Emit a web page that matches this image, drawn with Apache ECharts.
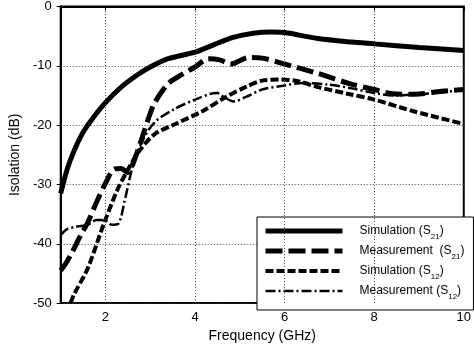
<!DOCTYPE html>
<html>
<head>
<meta charset="utf-8">
<script src="https://cdn.jsdelivr.net/npm/echarts@6/dist/echarts.min.js"></script>
<style>
  html, body { margin: 0; padding: 0; background: #fff; }
  #chart { width: 474px; height: 348px; }
</style>
</head>
<body>
<div id="chart"></div>
<script>
// Isolation vs frequency, simulated and measured S21 / S12
const xTicks = [2, 4, 6, 8, 10];
const xGrid = [2, 4, 6, 8];

const simS21Freq = [1.0, 1.15, 1.3, 1.5, 1.75, 2.0, 2.35, 2.7, 3.0, 3.4, 4.0, 4.4, 4.85, 5.3, 5.7, 6.0, 6.75, 7.5, 8.0, 9.0, 10.0];
const simS21Val  = [-31.5, -27.3, -24.3, -21.2, -18.5, -16.2, -13.6, -11.6, -10.2, -8.8, -7.7, -6.5, -5.2, -4.5, -4.3, -4.4, -5.4, -6.0, -6.3, -6.9, -7.4];

const measS21Freq = [1.0, 1.1, 1.25, 1.45, 1.6, 1.8, 2.0, 2.2, 2.35, 2.5, 2.6, 2.8, 3.0, 3.1, 3.4, 3.7, 4.0, 4.3, 4.55, 4.8, 5.2, 5.5, 5.95, 6.75, 7.45, 8.0, 8.4, 8.9, 9.5, 10.0];
const measS21Val  = [-44.5, -43.5, -41.5, -38.5, -36.5, -33.0, -29.8, -27.4, -27.3, -28.0, -26.8, -22.5, -18.0, -16.2, -13.0, -11.5, -10.2, -8.8, -9.0, -9.7, -8.6, -8.7, -9.6, -11.3, -13.0, -14.0, -14.7, -14.8, -14.3, -14.0];

const simS12Freq = [1.22, 1.3, 1.6, 1.97, 2.26, 2.45, 2.74, 3.1, 3.56, 4.15, 4.7, 5.15, 5.5, 5.9, 6.3, 6.75, 7.4, 8.0, 8.9, 10.0];
const simS12Val  = [-50.0, -48.5, -44.2, -36.5, -31.0, -28.2, -24.5, -21.5, -19.8, -17.7, -15.2, -13.5, -12.5, -12.3, -12.6, -13.6, -14.7, -15.7, -17.7, -19.8];

const measS12Freq = [1.0, 1.15, 1.3, 1.45, 1.6, 1.8, 1.97, 2.15, 2.3, 2.43, 2.6, 2.8, 3.1, 3.56, 4.0, 4.35, 4.5, 4.65, 4.86, 5.15, 5.5, 6.0, 6.4, 7.0, 7.5, 8.0, 8.5, 9.0, 9.5, 10.0];
const measS12Val  = [-38.5, -37.5, -37.2, -37.0, -36.8, -36.0, -36.0, -36.8, -36.5, -32.7, -27.2, -23.0, -19.5, -17.2, -15.7, -14.7, -14.6, -15.3, -16.0, -15.2, -14.0, -13.3, -12.9, -13.2, -13.8, -14.6, -15.0, -14.8, -14.5, -14.0];

const zip = (xs, ys) => xs.map((x, i) => [x, ys[i]]);

const FONT = 'Liberation Sans, Arial, sans-serif';

// line look of each trace: width and dash pattern
const styles = {
  sim21:  { width: 5,   type: 'solid' },
  meas21: { width: 5,   type: [17, 6] },
  sim12:  { width: 4,   type: [8, 3] },
  meas12: { width: 2.5, type: [10, 3, 2, 3] }
};

const chart = echarts.init(document.getElementById('chart'), null, { renderer: 'canvas' });

const subRich = {
  a: { fontFamily: FONT, fontSize: 12, color: '#000' },
  s: { fontFamily: FONT, fontSize: 8, color: '#000', verticalAlign: 'bottom', padding: [0, 0, -4, 0] }
};
const legendNames = {
  sim21: '{a|Simulation (S}{s|21}{a|)}',
  meas21: '{a|Measurement  (S}{s|21}{a|)}',
  sim12: '{a|Simulation (S}{s|12}{a|)}',
  meas12: '{a|Measurement (S}{s|12}{a|)}'
};

const baseSeries = (name, data) => ({
  name,
  type: 'line',
  data,
  smooth: 0.3,
  symbol: 'none',
  clip: true,
  color: '#000',
  itemStyle: { color: '#000' },
  lineStyle: { color: '#000', width: styles[name].width, type: styles[name].type, cap: 'butt' },
  emphasis: { disabled: true }
});

chart.setOption({
  animation: false,
  backgroundColor: '#fff',
  color: ['#000'],
  grid: {
    left: 52, right: 6, top: 4, bottom: 44,
    show: true, borderColor: '#000', borderWidth: 2, backgroundColor: 'transparent'
  },
  xAxis: {
    type: 'value',
    min: 1, max: 10,
    name: 'Frequency (GHz)',
    nameLocation: 'middle',
    nameGap: 22,
    nameTextStyle: { fontFamily: FONT, fontSize: 14, color: '#000' },
    axisLine: { show: true, lineStyle: { color: '#000', width: 2 } },
    axisTick: { show: true, inside: false, length: 4, customValues: xTicks, lineStyle: { color: '#000', width: 1 } },
    axisLabel: { customValues: xTicks, fontFamily: FONT, fontSize: 13, color: '#000', margin: 8 },
    splitLine: { show: false }
  },
  yAxis: {
    type: 'value',
    min: -50, max: 0, interval: 10,
    name: 'Isolation (dB)',
    nameLocation: 'middle',
    nameGap: 32,
    nameTextStyle: { fontFamily: FONT, fontSize: 14, color: '#000' },
    axisLine: { show: true, lineStyle: { color: '#000', width: 2 } },
    axisTick: { show: true, inside: false, length: 4, lineStyle: { color: '#000', width: 1 } },
    axisLabel: { fontFamily: FONT, fontSize: 13, color: '#000', margin: 9 },
    splitLine: { show: true, lineStyle: { color: '#444', width: 1, type: [1, 2] } }
  },
  legend: {
    orient: 'vertical',
    left: 257, top: 217,
    padding: [8, 9, 9, 6],
    itemWidth: 77, itemHeight: 14, itemGap: 4,
    borderColor: '#000', borderWidth: 1, backgroundColor: '#fff',
    selectedMode: false,
    itemStyle: { opacity: 0 },
    formatter: (n) => legendNames[n],
    textStyle: { rich: subRich, padding: [0, 0, 0, 12] },
    data: ['sim21', 'meas21', 'sim12', 'meas12'].map(n => ({
      name: n,
      itemStyle: { opacity: 0 },
      lineStyle: { color: '#000', width: styles[n].width, type: styles[n].type, cap: 'butt' }
    }))
  },
  series: [
    Object.assign(baseSeries('sim21', zip(simS21Freq, simS21Val)), {
      markLine: {
        silent: true,
        symbol: ['none', 'none'],
        label: { show: false },
        lineStyle: { color: '#444', width: 1, type: [1, 2] },
        data: xGrid.map(v => ({ xAxis: v }))
      }
    }),
    baseSeries('meas21', zip(measS21Freq, measS21Val)),
    baseSeries('sim12', zip(simS12Freq, simS12Val)),
    baseSeries('meas12', zip(measS12Freq, measS12Val))
  ]
});
</script>
</body>
</html>
